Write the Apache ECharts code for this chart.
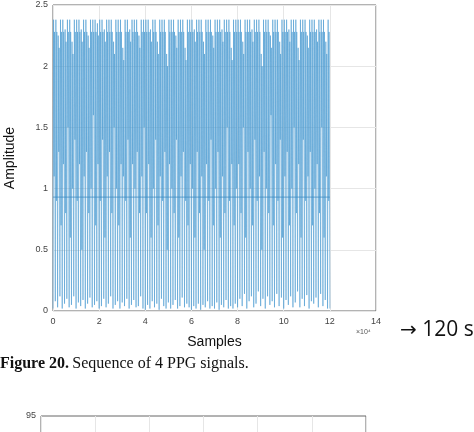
<!DOCTYPE html>
<html>
<head>
<meta charset="utf-8">
<script src="https://cdn.jsdelivr.net/npm/echarts@6/dist/echarts.min.js"></script>
<style>html,body{margin:0;padding:0;background:#fff}#main{width:474px;height:432px}</style>
</head>
<body>
<div id="main"></div>
<script>
// 每个周期的谷值、峰值、回落点
var troughs = [0.02,0.08,0.03,0.12,0.02,0.06,0.1,0.03,0.05,0.12,0.02,0.07,0.04,0.09,0.02,0.06,0.11,0.03,0.05,0.08,
  0.02,0.04,0.1,0.03,0.06,0.12,0.02,0.05,0.08,0.02,0.07,0.04,0.1,0.02,0.05,0.09,0.03,0.04,0.12,0.02,
  0.01,0.05,0.02,0.08,0.03,0.06,0.01,0.1,0.04,0.02,0.07,0.02,0.05,0.09,0.02,0.04,0.11,0.03,0.06,0.03,
  0.01,0.04,0.02,0.06,0.01,0.05,0.03,0.08,0.02,0.04,0.02,0.07,0.01,0.05,0.03,0.09,0.02,0.04,0.02,0.06,
  0.03,0.1,0.04,0.14,0.02,0.08,0.12,0.03,0.06,0.16,0.04,0.1,0.02,0.12,0.05,0.08,0.03,0.14,0.04,0.11,
  0.02,0.09,0.05,0.12,0.03,0.07,0.16,0.03,0.1,0.04,0.13,0.02,0.08,0.06,0.11,0.03,0.14,0.04,0.09,0.02];
var peaks = [2.38,2.38,2.25,2.38,2.38,2.3,2.38,2.38,2.2,2.38,2.38,2.38,2.3,2.38,2.38,2.25,2.38,2.38,2.38,2.35,
  2.38,2.38,2.3,2.38,2.38,2.38,2.2,2.38,2.38,2.38,2.15,2.38,2.38,2.3,2.38,2.38,2.38,2.25,2.38,2.38,
  2.38,2.38,2.3,2.38,2.38,2.2,2.38,2.38,2.38,2.1,2.38,2.38,2.38,2.25,2.38,2.38,2.38,2.15,2.38,2.38,
  2.38,2.3,2.38,2.38,2.38,2.2,2.38,2.38,2.38,2.25,2.38,2.38,2.38,2.3,2.38,2.38,2.38,2.15,2.38,2.38,
  2.38,2.38,2.2,2.38,2.38,2.38,2.3,2.38,2.38,2.38,2.1,2.38,2.38,2.38,2.25,2.38,2.38,2.38,2.2,2.38,
  2.38,2.38,2.3,2.38,2.38,2.38,2.15,2.38,2.38,2.38,2.25,2.38,2.38,2.38,2.3,2.38,2.38,2.38,2.2,2.38];
var notches = [1.1,0.9,1.3,0.7,1.2,0.8,1.5,0.6,1.0,1.4,0.9,1.2,0.5,1.1,1.3,0.8,1.0,1.6,0.7,1.2,
  0.9,1.4,0.6,1.1,1.3,0.8,1.5,1.0,0.7,1.2,1.1,0.9,1.4,0.6,1.2,1.0,1.3,0.8,1.1,1.5,
  0.8,1.2,0.6,1.0,1.4,0.7,1.1,0.9,1.3,0.5,1.2,1.0,0.8,1.4,0.6,1.1,1.3,0.9,0.7,1.2,
  1.0,0.6,1.3,0.8,1.1,0.5,1.2,0.9,1.4,0.7,1.0,1.3,0.6,1.1,0.8,1.5,0.9,1.2,0.7,1.0,
  1.2,0.8,1.5,0.6,1.3,1.0,0.7,1.4,0.9,1.1,0.5,1.3,1.0,0.8,1.6,0.7,1.2,0.9,1.4,0.6,
  1.1,1.3,0.7,1.0,1.5,0.8,1.2,0.6,1.4,0.9,1.1,1.3,0.7,1.0,1.2,0.8,1.5,0.6,1.1,0.9];
var cycleLen = 1000;   // 每个周期的采样点数
var baseLevel = 0.93;  // 水平基线

var signal = [];
for (var i = 0; i < troughs.length; i++) {
  signal.push([i * cycleLen, troughs[i]]);
  signal.push([i * cycleLen + 250, peaks[i]]);
  signal.push([i * cycleLen + 500, notches[i]]);
  signal.push([i * cycleLen + 650, peaks[i] - 0.1]);
}
signal.push([troughs.length * cycleLen, troughs[0]]);
var baseLine = [[0, baseLevel], [troughs.length * cycleLen, baseLevel]];

var chart = echarts.init(document.getElementById('main'));
var grayText = {color: '#444', fontSize: 9, fontFamily: 'Liberation Sans'};
var option = {
  animation: false,
  grid: [
    {left: 53, right: 98, top: 5, bottom: 121, show: true, borderColor: '#666', borderWidth: 1,
     containLabel: false, outerBoundsMode: 'none'},
    {left: 41, right: 108, top: 416, height: 120, show: true, borderColor: '#666', borderWidth: 1,
     containLabel: false, outerBoundsMode: 'none'}
  ],
  xAxis: [{
    type: 'value', min: 0, max: 140000, interval: 20000, gridIndex: 0,
    axisLine: {show: false}, axisTick: {show: false},
    splitLine: {lineStyle: {color: '#e6e6e6'}},
    axisLabel: Object.assign({formatter: function (v) { return v / 10000; }, margin: 6}, grayText),
    name: 'Samples', nameLocation: 'middle', nameGap: 24,
    nameTextStyle: {fontSize: 14, color: '#111', fontFamily: 'Liberation Sans'}
  }, {
    type: 'value', min: 0, max: 6, interval: 1, gridIndex: 1,
    axisLine: {show: false}, axisTick: {show: false}, axisLabel: {show: false},
    splitLine: {lineStyle: {color: '#e6e6e6'}}
  }],
  yAxis: [{
    type: 'value', min: 0, max: 2.5, interval: 0.5, gridIndex: 0,
    axisLine: {show: false}, axisTick: {show: false},
    splitLine: {lineStyle: {color: '#e6e6e6'}},
    axisLabel: Object.assign({margin: 5}, grayText),
    name: 'Amplitude', nameLocation: 'middle', nameGap: 36,
    nameTextStyle: {fontSize: 14, color: '#111', fontFamily: 'Liberation Sans'}
  }, {
    type: 'value', min: 90, max: 95, interval: 5, gridIndex: 1,
    axisLine: {show: false}, axisTick: {show: false},
    splitLine: {show: false},
    axisLabel: Object.assign({margin: 5, formatter: function (v) { return v === 95 ? '95' : ''; }}, grayText)
  }],
  series: [{
    type: 'line', xAxisIndex: 0, yAxisIndex: 0, data: signal, symbol: 'none',
    lineStyle: {color: '#4a9ad0', width: 0.9, opacity: 0.65}
  }, {
    type: 'line', xAxisIndex: 0, yAxisIndex: 0, data: baseLine, symbol: 'none',
    lineStyle: {color: '#3a88c0', width: 1.2, opacity: 0.6}
  }],
  graphic: [
    {type: 'text', left: 356, top: 329, style: {text: '×10⁴', fontSize: 7, fill: '#555', fontFamily: 'Liberation Sans'}},
    {type: 'text', left: 400, top: 320, style: {rich: {
      a: {fontSize: 20, fontFamily: 'DejaVu Sans', fill: '#111'},
      t: {fontSize: 21, fontFamily: 'Open Sans', fill: '#111'}
    }, text: '{a|→}{t| 120 s}'}},
    {type: 'text', left: 0, top: 356, style: {rich: {
      b: {fontWeight: 'bold', fontSize: 16, fontFamily: 'Liberation Serif', fill: '#111'},
      n: {fontSize: 16, fontFamily: 'Liberation Serif', fill: '#111'}
    }, text: '{b|Figure 20.} {n|Sequence of 4 PPG signals.}'}}
  ]
};
chart.setOption(option);
</script>
</body>
</html>
